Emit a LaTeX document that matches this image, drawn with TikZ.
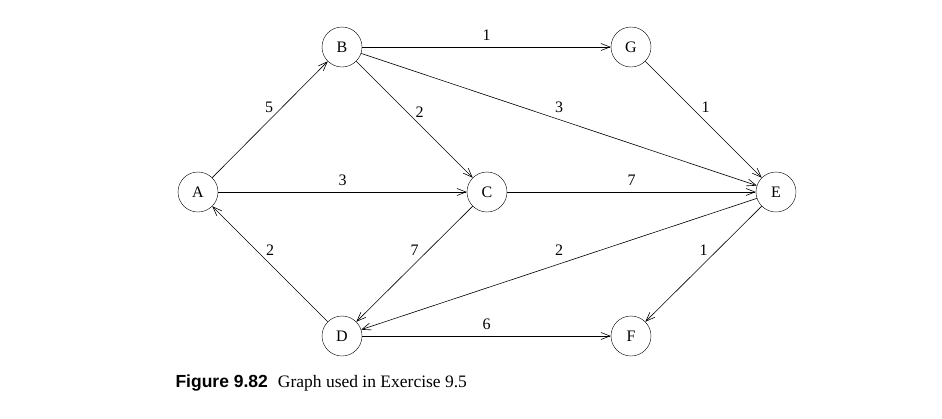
\documentclass[tikz,border=0pt]{standalone}
\usepackage{fontspec}
\setmainfont{Liberation Serif}
\newfontfamily\capsans{Liberation Sans}
\usetikzlibrary{arrows.meta}
\begin{document}
\begin{tikzpicture}[x=1pt,y=-1pt,
  vtx/.style={draw,circle,minimum size=40pt,inner sep=0pt,font=\fontsize{16}{19}\selectfont},
  arc/.style={draw,-{Straight Barb[length=9pt,width=7pt]},line width=0.6pt},
  wt/.style={midway,yshift=12pt,font=\fontsize{16}{19}\selectfont}]
\useasboundingbox (0,0) rectangle (942,418);
\node[vtx] (A) at (198,192) {A};
\node[vtx] (B) at (342,47) {B};
\node[vtx] (G) at (631,47) {G};
\node[vtx] (C) at (487,192) {C};
\node[vtx] (E) at (776,192) {E};
\node[vtx] (D) at (342,336) {D};
\node[vtx] (F) at (631,336) {F};
\draw[arc] (A) -- (B) node[wt,xshift=-1pt] {5};
\draw[arc] (B) -- (G) node[wt] {1};
\draw[arc] (B) -- (C) node[wt,yshift=-5pt,xshift=5pt] {2};
\draw[arc] (B) -- (E) node[wt] {3};
\draw[arc] (G) -- (E) node[wt,xshift=2pt] {1};
\draw[arc] (A) -- (C) node[wt] {3};
\draw[arc] (C) -- (E) node[wt] {7};
\draw[arc] (E) -- (D) node[wt,yshift=2pt] {2};
\draw[arc] (D) -- (A) node[wt,yshift=2pt] {2};
\draw[arc] (C) -- (D) node[wt,yshift=2pt] {7};
\draw[arc] (E) -- (F) node[wt,yshift=2pt] {1};
\draw[arc] (D) -- (F) node[wt] {6};
\node[anchor=west,font=\fontsize{17.5}{21}\selectfont] (cap) at (172,383)
  {{\capsans\bfseries Figure 9.82}\hspace{10pt}Graph used in Exercise 9.5};
\end{tikzpicture}
\end{document}
